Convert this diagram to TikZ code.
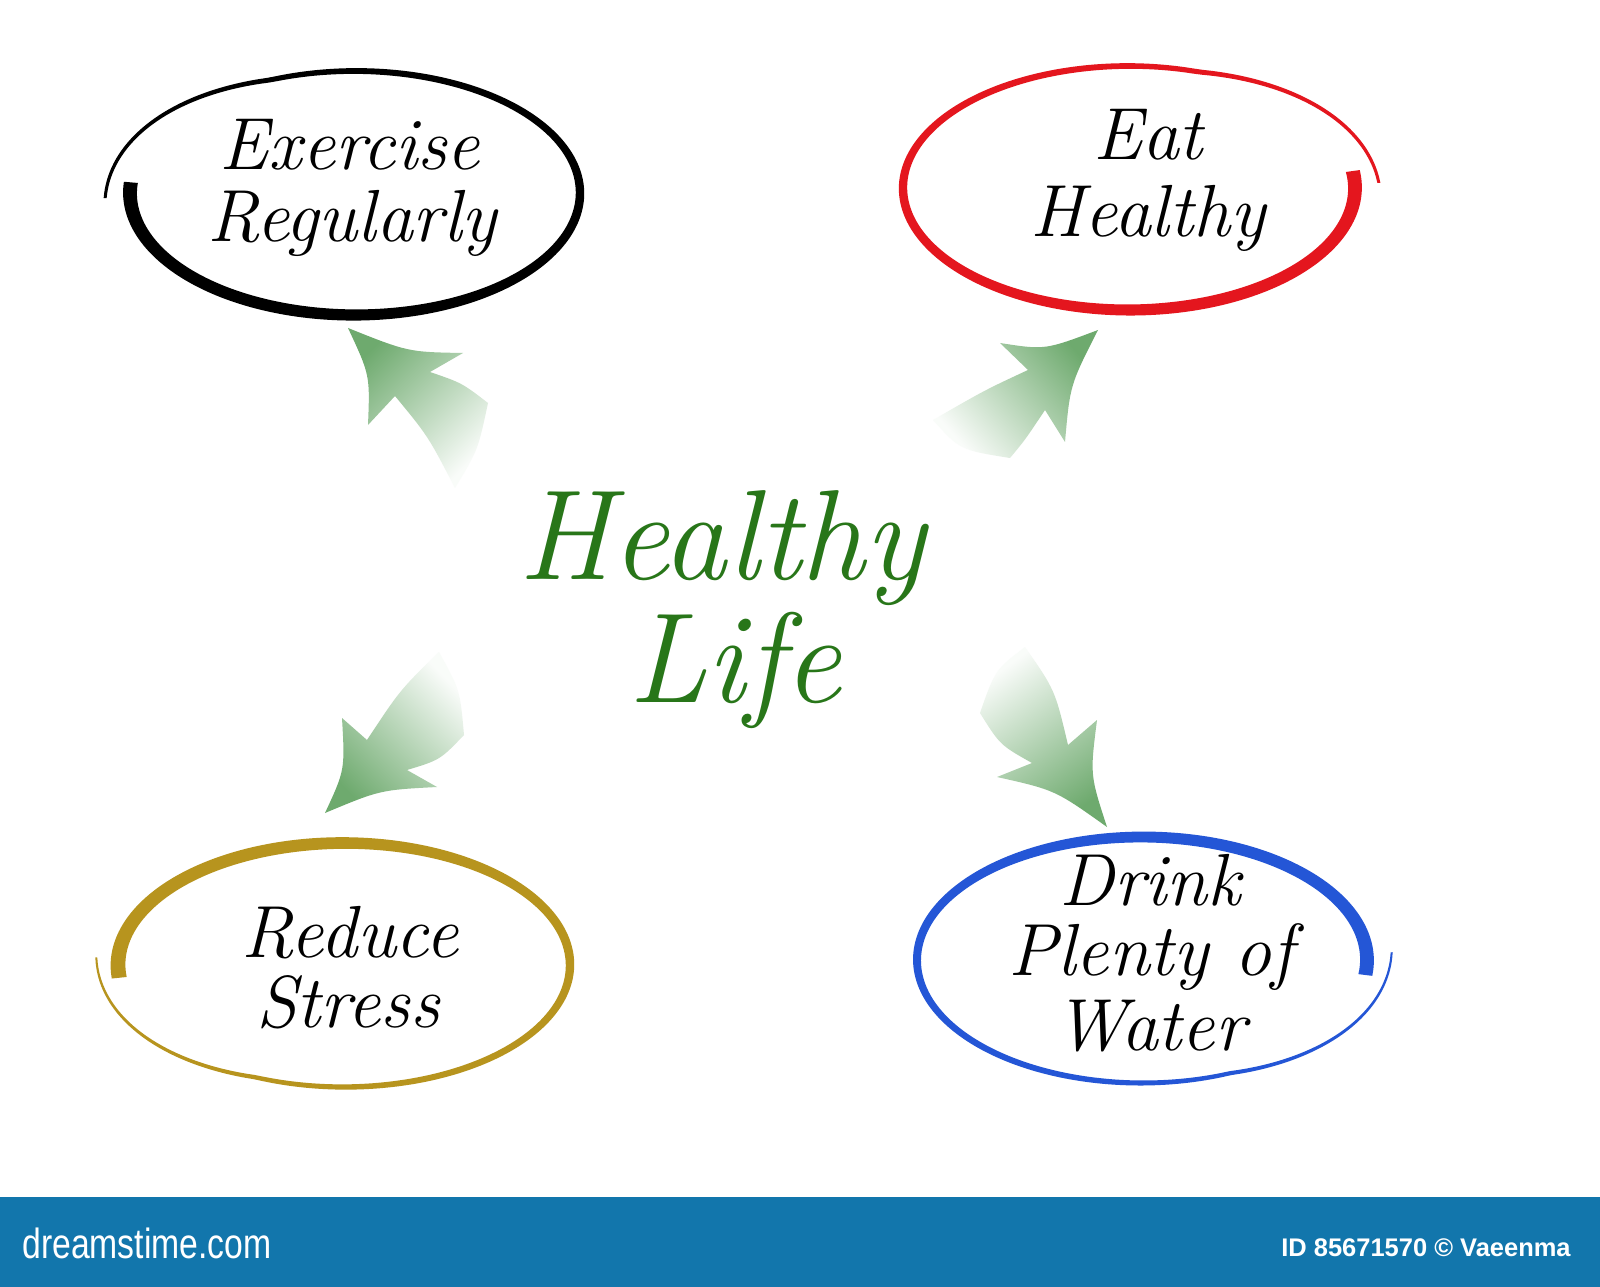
\documentclass[tikz,border=0pt]{standalone}
\usepackage{fontspec}
\newfontfamily\barfont{Liberation Sans}
\definecolor{lifegreen}{RGB}{40,118,25}
\definecolor{arrowgreen}{RGB}{110,170,110}
\definecolor{ovred}{RGB}{228,22,30}
\definecolor{ovgold}{RGB}{183,148,30}
\definecolor{ovblue}{RGB}{36,86,214}
\definecolor{barblue}{RGB}{18,118,172}
% hand drawn open oval: cx, cy, rx, ry, start, end, spiral offset, w0, w1 (pixels, y down)
\newcommand\handoval[9]{%
  \fill plot[domain=#5:#6, samples=160, variable=\t, smooth]
    ({#1+(#3+#7*max(0,1-abs(\t-(#5))/70)+(#8+(#9-#8)*abs(\t-(#5))/abs(#6-(#5)))/2)*cos(\t)},
     {-(#2+(#4+#7*max(0,1-abs(\t-(#5))/70)+(#8+(#9-#8)*abs(\t-(#5))/abs(#6-(#5)))/2)*sin(\t))})
  -- plot[domain=#6:#5, samples=160, variable=\t, smooth]
    ({#1+(#3+#7*max(0,1-abs(\t-(#5))/70)-(#8+(#9-#8)*abs(\t-(#5))/abs(#6-(#5)))/2)*cos(\t)},
     {-(#2+(#4+#7*max(0,1-abs(\t-(#5))/70)-(#8+(#9-#8)*abs(\t-(#5))/abs(#6-(#5)))/2)*sin(\t))})
  -- cycle;}
\tikzset{
  lbl/.style={font=\fontsize{42}{40}\selectfont\itshape, anchor=base, inner sep=0pt, text=black},
  lifetext/.style={font=\fontsize{73}{68}\selectfont\itshape, anchor=base, inner sep=0pt, text=lifegreen},
  swoosh/.style={top color=arrowgreen, middle color=arrowgreen!85, bottom color=arrowgreen!4, draw=none},
}
\begin{document}
\begin{tikzpicture}[x=0.02cm, y=0.02cm]
\useasboundingbox (0,0) rectangle (1600,-1287);
\fill[white] (0,0) rectangle (1600,-1287);

% ovals
\begin{scope}[fill=black]
  \handoval{355}{193}{225}{122}{178}{545}{25}{3}{14}
\end{scope}
\begin{scope}[fill=ovred]
  \handoval{1129}{188}{226}{122}{358}{-8}{24}{3}{14}
\end{scope}
\begin{scope}[fill=ovgold]
  \handoval{344}{965}{226}{122}{183}{-186}{22}{2}{15}
\end{scope}
\begin{scope}[fill=ovblue]
  \handoval{1142}{960}{225}{123}{-3}{367}{25}{2}{14}
\end{scope}

% labels
\node[lbl] (ex1) at (350,-170) {Exercise};
\node[lbl] (ex2) at (352,-242) {Regularly};
\node[lbl] (eat1) at (1148,-160) {Eat};
\node[lbl] (eat2) at (1148,-237) {Healthy};
\node[lbl] (red1) at (350,-957) {Reduce};
\node[lbl] (red2) at (348,-1027) {Stress};
\node[lbl] (dr1) at (1150,-905) {Drink};
\node[lbl] (dr2) at (1151,-975) {Plenty of};
\node[lbl] (dr3) at (1150,-1050) {Water};

\node[lifetext] (life1) at (722,-580) {Healthy};
\node[lifetext] (life2) at (735,-702) {Life};

% swoosh arrows
\shade[swoosh, shading angle=45]
  (348,-328) .. controls (408,-352) .. (463,-353) -- (430,-372)
  .. controls (462,-383) .. (488,-403) .. controls (478,-450) .. (455,-488)
  .. controls (428,-436) .. (395,-396) -- (368,-425)
  .. controls (370,-375) .. (348,-328) -- cycle;
\shade[swoosh, shading angle=-49]
  (1098,-330) .. controls (1045,-350) .. (1000,-343) -- (1028,-370)
  .. controls (985,-390) .. (933,-420) .. controls (960,-450) .. (1010,-458)
  .. controls (1025,-440) .. (1045,-410) -- (1065,-442)
  .. controls (1070,-385) .. (1098,-330) -- cycle;
\shade[swoosh, shading angle=134]
  (325,-813) .. controls (345,-770) .. (342,-718) -- (367,-740)
  .. controls (400,-690) .. (439,-652) .. controls (460,-690) .. (464,-735)
  .. controls (440,-760) .. (407,-770) -- (437,-787)
  .. controls (380,-790) .. (325,-813) -- cycle;
\shade[swoosh, shading angle=-144]
  (1107,-827) .. controls (1090,-775) .. (1097,-720) -- (1068,-745)
  .. controls (1055,-690) .. (1025,-647) .. controls (995,-670) .. (980,-713)
  .. controls (1000,-745) .. (1032,-763) -- (997,-777)
  .. controls (1055,-790) .. (1107,-827) -- cycle;

% bottom bar
\fill[barblue] (0,-1197) rectangle (1600,-1287);
\node[font=\barfont\fontsize{24}{24}\selectfont, text=white, anchor=base west, xscale=0.8, inner sep=0pt] (logo) at (22,-1258) {dreamstime.com};
\node[font=\barfont\bfseries\fontsize{14.5}{15}\selectfont, text=white, anchor=base east, inner sep=0pt] (credit) at (1571,-1256) {ID 85671570 © Vaeenma};
\end{tikzpicture}
\end{document}
